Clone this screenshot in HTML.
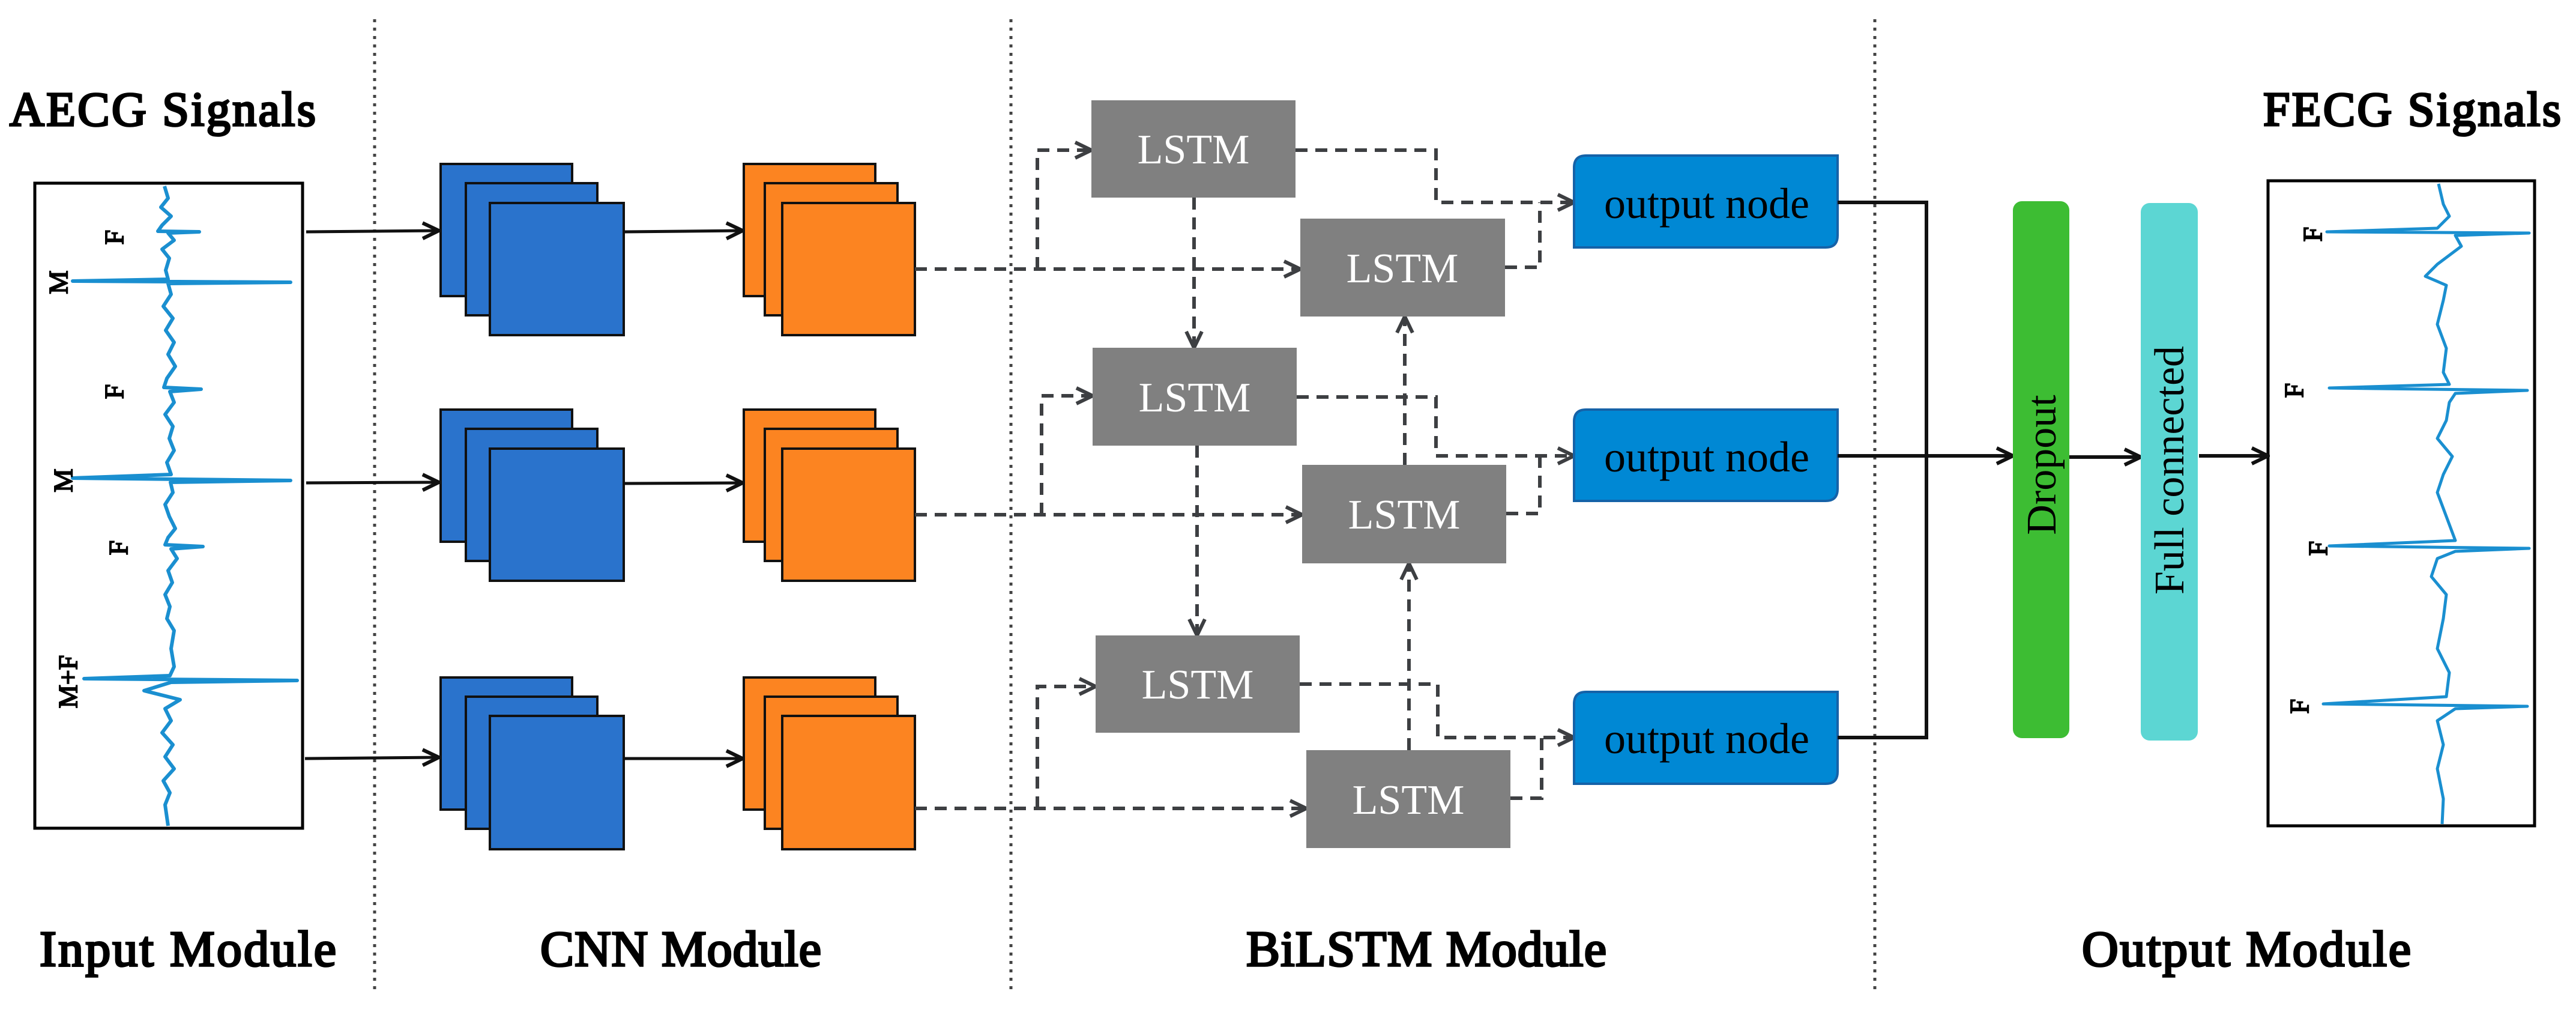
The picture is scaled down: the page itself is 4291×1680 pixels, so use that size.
<!DOCTYPE html>
<html><head><meta charset="utf-8"><style>
html,body{margin:0;padding:0;background:#fff;}
svg{display:block;}
svg text{font-family:"Liberation Serif","DejaVu Serif",serif;}
</style></head><body>
<svg width="4291" height="1680" viewBox="0 0 4291 1680" xmlns="http://www.w3.org/2000/svg">
<defs>
<marker id="ab" markerUnits="userSpaceOnUse" markerWidth="36" markerHeight="36" viewBox="0 0 36 36" refX="33" refY="18" orient="auto">
<path d="M6,5 L33,18 L6,31" fill="none" stroke="#111" stroke-width="6" stroke-dasharray="none"/>
</marker>
<marker id="ag" markerUnits="userSpaceOnUse" markerWidth="36" markerHeight="36" viewBox="0 0 36 36" refX="33" refY="18" orient="auto">
<path d="M6,5 L33,18 L6,31" fill="none" stroke="#3d3f42" stroke-width="6" stroke-dasharray="none"/>
</marker>
</defs>

<g stroke="#444" stroke-width="5" stroke-dasharray="5 9">
<line x1="624" y1="32" x2="624" y2="1650"/>
<line x1="1684" y1="32" x2="1684" y2="1650"/>
<line x1="3123" y1="32" x2="3123" y2="1650"/>
</g>

<g font-size="80" fill="#000" stroke="#000" stroke-width="3.5">
<text x="16" y="209" textLength="510">AECG Signals</text>
<text x="3770" y="209" textLength="496">FECG Signals</text>
<text x="66" y="1608" font-size="84" textLength="494">Input Module</text>
<text x="900" y="1608" font-size="84" textLength="468">CNN Module</text>
<text x="2076" y="1608" font-size="84" textLength="600">BiLSTM Module</text>
<text x="3468" y="1608" font-size="84" textLength="548">Output Module</text>
</g>

<rect x="58" y="305" width="446" height="1074" fill="#fff" stroke="#000" stroke-width="5"/>
<polyline fill="none" stroke="#1a8fd0" stroke-width="6" stroke-linejoin="round" points="274,310 280,330 268,345 285,360 270,375 263,385 332,386 280,388 290,400 270,415 282,430 276,450 280,465 121,468 484,470 280,472 285,490 272,510 288,530 276,550 290,570 280,590 292,610 278,630 273,645 335,648 283,652 290,670 275,690 288,710 282,730 290,750 278,770 285,790 121,796 484,800 284,803 288,820 275,840 282,860 292,880 280,895 275,907 338,910 285,914 295,930 280,950 287,970 275,990 283,1010 278,1030 290,1050 285,1080 290,1110 283,1125 140,1130 495,1133 285,1136 240,1150 300,1165 275,1180 285,1200 270,1220 288,1240 275,1260 290,1280 272,1300 283,1320 275,1340 280,1375"/>
<g font-size="44" fill="#000" stroke="#000" stroke-width="2" text-anchor="middle">
<text transform="translate(205,395) rotate(-90)">F</text>
<text transform="translate(112,470) rotate(-90)">M</text>
<text transform="translate(205,652) rotate(-90)">F</text>
<text transform="translate(120,800) rotate(-90)">M</text>
<text transform="translate(212,912) rotate(-90)">F</text>
<text transform="translate(128,1135) rotate(-90)">M+F</text>
</g>

<rect x="3778" y="301" width="444" height="1074" fill="#fff" stroke="#000" stroke-width="5"/>
<polyline fill="none" stroke="#1a8fd0" stroke-width="5" stroke-linejoin="round" points="4062,306 4070,340 4080,360 4060,380 3876,386 4213,388 4090,392 4100,410 4060,440 4040,460 4075,475 4070,500 4060,540 4075,580 4070,620 4080,640 3880,646 4210,650 4090,655 4080,670 4075,700 4060,730 4085,760 4070,790 4060,820 4075,860 4090,900 3880,909 4213,913 4090,918 4060,930 4050,960 4075,990 4070,1030 4060,1080 4080,1120 4075,1160 3870,1172 4210,1176 4090,1180 4060,1200 4070,1240 4060,1280 4070,1330 4068,1372"/>
<g font-size="44" fill="#000" stroke="#000" stroke-width="2" text-anchor="middle">
<text transform="translate(3867,390) rotate(-90)">F</text>
<text transform="translate(3836,650) rotate(-90)">F</text>
<text transform="translate(3876,913) rotate(-90)">F</text>
<text transform="translate(3845,1176) rotate(-90)">F</text>
</g>

<g stroke="#111" stroke-width="5" fill="none" marker-end="url(#ab)">
<line x1="510" y1="386" x2="731" y2="384"/>
<line x1="510" y1="804" x2="731" y2="803"/>
<line x1="508" y1="1263" x2="731" y2="1261"/>
<line x1="1039" y1="386" x2="1237" y2="384"/>
<line x1="1039" y1="805" x2="1237" y2="804"/>
<line x1="1039" y1="1263" x2="1237" y2="1263"/>
</g>

<g stroke="#111" stroke-width="4">
<g fill="#2a73cc">
<rect x="734" y="273" width="219" height="220"/><rect x="776" y="305" width="219" height="220"/><rect x="816" y="338" width="223" height="220"/>
<rect x="734" y="682" width="219" height="220"/><rect x="776" y="714" width="219" height="220"/><rect x="816" y="747" width="223" height="220"/>
<rect x="734" y="1128" width="219" height="220"/><rect x="776" y="1160" width="219" height="220"/><rect x="816" y="1192" width="223" height="222"/>
</g>
<g fill="#fc8421">
<rect x="1239" y="273" width="219" height="220"/><rect x="1274" y="305" width="221" height="220"/><rect x="1303" y="338" width="221" height="220"/>
<rect x="1239" y="682" width="219" height="220"/><rect x="1274" y="714" width="221" height="220"/><rect x="1303" y="747" width="221" height="220"/>
<rect x="1239" y="1128" width="219" height="220"/><rect x="1274" y="1160" width="221" height="220"/><rect x="1303" y="1192" width="221" height="222"/>
</g>
</g>

<g stroke="#3d3f42" stroke-width="6" fill="none" stroke-dasharray="20 13">
<line x1="1524" y1="448" x2="2166" y2="448" marker-end="url(#ag)"/>
<polyline points="1728,448 1728,250 1818,250" marker-end="url(#ag)"/>
<line x1="1524" y1="857" x2="2169" y2="857" marker-end="url(#ag)"/>
<polyline points="1735,857 1735,659 1820,659" marker-end="url(#ag)"/>
<line x1="1524" y1="1346" x2="2176" y2="1346" marker-end="url(#ag)"/>
<polyline points="1728,1346 1728,1143 1825,1143" marker-end="url(#ag)"/>

<polyline points="2158,250 2392,250 2392,337 2622,337" marker-end="url(#ag)"/>
<polyline points="2507,445 2565,445 2565,337"/>
<polyline points="2160,661 2392,661 2392,759 2622,759" marker-end="url(#ag)"/>
<polyline points="2509,855 2565,855 2565,759"/>
<polyline points="2165,1139 2395,1139 2395,1228 2622,1228" marker-end="url(#ag)"/>
<polyline points="2516,1329 2568,1329 2568,1228"/>

<line x1="1989" y1="329" x2="1989" y2="579" marker-end="url(#ag)"/>
<line x1="1994" y1="742" x2="1994" y2="1058" marker-end="url(#ag)"/>
<line x1="2340" y1="774" x2="2340" y2="527" marker-end="url(#ag)"/>
<line x1="2347" y1="1249" x2="2347" y2="938" marker-end="url(#ag)"/>
</g>

<g fill="#808080">
<rect x="1818" y="167" width="340" height="162"/>
<rect x="2166" y="364" width="341" height="163"/>
<rect x="1820" y="579" width="340" height="163"/>
<rect x="2169" y="774" width="340" height="164"/>
<rect x="1825" y="1058" width="340" height="162"/>
<rect x="2176" y="1249" width="340" height="163"/>
</g>
<g fill="#fff" font-size="70" text-anchor="middle">
<text x="1988" y="272">LSTM</text>
<text x="2336" y="470">LSTM</text>
<text x="1990" y="685">LSTM</text>
<text x="2339" y="880">LSTM</text>
<text x="1995" y="1163">LSTM</text>
<text x="2346" y="1355">LSTM</text>
</g>

<g fill="#0088d4" stroke="#1562a8" stroke-width="4">
<path d="M2622,279 Q2622,259 2642,259 L3061,259 L3061,392 Q3061,412 3041,412 L2622,412 Z"/>
<path d="M2622,702 Q2622,682 2642,682 L3061,682 L3061,814 Q3061,834 3041,834 L2622,834 Z"/>
<path d="M2622,1172 Q2622,1152 2642,1152 L3061,1152 L3061,1285 Q3061,1305 3041,1305 L2622,1305 Z"/>
</g>
<g fill="#000" font-size="72" text-anchor="middle">
<text x="2843" y="363">output node</text>
<text x="2843" y="785">output node</text>
<text x="2843" y="1254">output node</text>
</g>

<g stroke="#111" stroke-width="6" fill="none">
<polyline points="3061,337 3209,337 3209,1228 3061,1228"/>
<line x1="3061" y1="759" x2="3353" y2="759" marker-end="url(#ab)"/>
<line x1="3447" y1="761" x2="3566" y2="761" marker-end="url(#ab)"/>
<line x1="3663" y1="759" x2="3778" y2="759" marker-end="url(#ab)"/>
</g>

<rect x="3353" y="335" width="94" height="894" rx="15" fill="#3dbd33"/>
<rect x="3566" y="338" width="95" height="895" rx="15" fill="#5cd6d3"/>
<g fill="#000" font-size="70" text-anchor="middle">
<text transform="translate(3424,774) rotate(-90)">Dropout</text>
<text transform="translate(3637,783) rotate(-90)">Full connected</text>
</g>
</svg>
</body></html>
